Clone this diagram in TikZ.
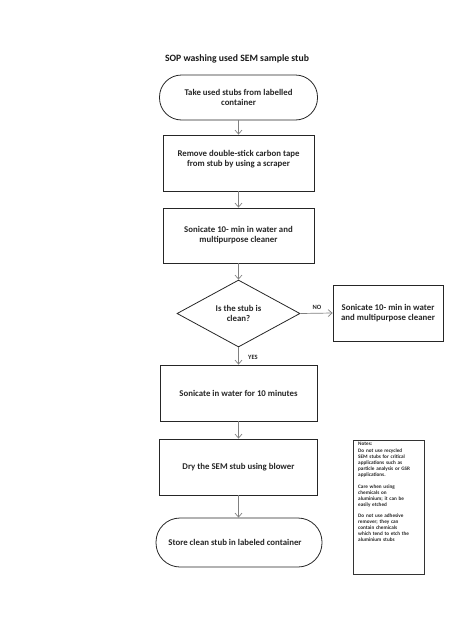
\documentclass[tikz,border=0pt]{standalone}
\usepackage{fontspec}
\setmainfont{Carlito}
\usetikzlibrary{shapes.geometric,arrows.meta}
\begin{document}
\begin{tikzpicture}[x=1pt,y=-1pt,
  box/.style={draw=black!85,line width=0.8pt,minimum width=152pt,minimum height=56pt,
    align=center,inner sep=2pt,text=black!85,font=\bfseries\fontsize{8.8}{10}\selectfont},
  term/.style={box,rounded corners=22pt},
  decision/.style={box,diamond,minimum width=123pt,minimum height=67pt,inner sep=0pt},
  conn/.style={draw=black!50,line width=0.7pt,-{Straight Barb[length=4pt,width=7pt]}},
  tag/.style={font=\bfseries\fontsize{6.5}{7}\selectfont,text=black!85,inner sep=1pt},
  notesline/.style={draw=black!80,line width=0.6pt},
  notestext/.style={text width=62pt,align=left,inner sep=0pt,text=black!85,
    font=\bfseries\fontsize{5.2}{5.9}\selectfont}
]
\useasboundingbox (0,0) rectangle (474,632);

\node[font=\bfseries\fontsize{9.7}{11}\selectfont,text=black!90] (title) at (237,59) {SOP washing used SEM sample stub};

\node[term,minimum width=158pt,minimum height=45pt] (t1) at (238.5,97.5) {Take used stubs from labelled\\container};
\node[box,minimum width=151pt,minimum height=56pt] (b2) at (238.5,163) {Remove double-stick carbon tape\\from stub by using a scraper\\[-1pt]\mbox{}};
\node[box,minimum width=151pt,minimum height=55pt] (b3) at (238.5,235.5) {Sonicate 10- min in water and\\multipurpose cleaner};
\node[decision] (d) at (238.5,313.5) {Is the stub is\\clean?};
\node[box,minimum width=110pt,minimum height=56pt] (r) at (388,313) {Sonicate 10- min in water\\and multipurpose cleaner};
\node[box,minimum width=157pt,minimum height=56pt] (b4) at (238.5,393) {Sonicate in water for 10 minutes};
\node[box,minimum width=158pt,minimum height=56pt] (b5) at (238.5,467) {Dry the SEM stub using blower};
\node[term,minimum width=166pt,minimum height=49pt,rounded corners=24pt] (t2) at (239,542.5) {Store clean stub in labeled container\hspace{8pt}};

\coordinate (nTL) at (353,440);
\coordinate (nBR) at (424,574);
\draw[notesline] (nTL) rectangle (nBR);
\node[notestext,anchor=north west] (nt) at (358,442) {Notes:\\[1.5pt]
Do not use recycled\\SEM stubs for critical\\applications such as\\particle analysis or GSR\\applications.\\[5.9pt]
Care when using\\chemicals on\\aluminium; it can be\\easily etched\\[5.9pt]
Do not use adhesive\\remover; they can\\contain chemicals\\which tend to etch the\\aluminium stubs};

\draw[conn] (t1.south) -- (b2.north);
\draw[conn] (b2.south) -- (b3.north);
\draw[conn] (b3.south) -- (d.north);
\draw[conn] (d.east) -- (r.west);
\draw[conn] (d.south) -- (b4.north);
\draw[conn] (b4.south) -- (b5.north);
\draw[conn] (b5.south) -- (t2.north -| b5.south);

\node[tag] (no) at (317,307) {NO};
\node[tag] (yes) at (253,357) {YES};
\end{tikzpicture}
\end{document}
